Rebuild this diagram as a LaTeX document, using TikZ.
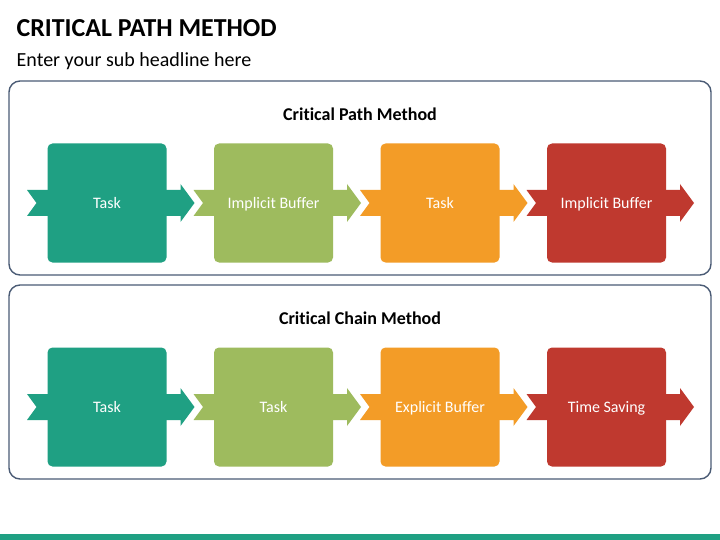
\documentclass[tikz,border=0pt]{standalone}
\usepackage{fontspec}
\setmainfont[Ligatures=NoCommon]{Carlito}
\definecolor{cgreen}{HTML}{1FA083}
\definecolor{clime}{HTML}{9EBB5E}
\definecolor{corange}{HTML}{F39C27}
\definecolor{cred}{HTML}{BF392F}
\definecolor{cpanel}{HTML}{4A5B75}
\newcommand{\taskshape}[5]{%
  \begin{scope}[shift={(#1,#2)}]
    \fill[#3] (-20.5,-13) -- (1,-13) -- (1,13) -- (-20.5,13) -- (-11,0) -- cycle;
    \fill[#3] (118,-13) -- (133,-13) -- (133,-19) -- (147,0) -- (133,19) -- (133,13) -- (118,13) -- cycle;
    \fill[#3, rounded corners=5pt] (0,-59.5) rectangle (119,59.5);
    \node[tasklabel] (#4) at (59.5,5.9) {#5};
  \end{scope}}
\tikzset{
  panel/.style={draw=cpanel, line width=1.4pt, rounded corners=11pt, fill=white},
  tasklabel/.style={text=white, anchor=base, font=\fontsize{16}{18}\selectfont, inner sep=0pt},
  paneltitle/.style={text=black, anchor=base, font=\fontsize{18}{20}\selectfont\bfseries, inner sep=0pt}
}
\begin{document}
\begin{tikzpicture}[x=1pt,y=-1pt]
\useasboundingbox (0,0) rectangle (720,540);
\fill[white] (0,0) rectangle (720,540);
\node[anchor=base west, inner sep=0pt, font=\fontsize{25.9}{28}\selectfont\bfseries] (title) at (16.5,37) {CRITICAL PATH METHOD};
\node[anchor=base west, inner sep=0pt, font=\fontsize{20}{24}\selectfont] (sub) at (16.5,66.5) {Enter your sub headline here};
\draw[panel] (9,81) rectangle (711,275);
\draw[panel] (9,285) rectangle (711,479);
\node[paneltitle] (t1) at (360,120.2) {Critical Path Method};
\node[paneltitle] (t2) at (360,324.2) {Critical Chain Method};
\taskshape{47.5}{203}{cgreen}{a1}{Task}
\taskshape{214}{203}{clime}{a2}{Implicit Buffer}
\taskshape{380.5}{203}{corange}{a3}{Task}
\taskshape{547}{203}{cred}{a4}{Implicit Buffer}
\taskshape{47.5}{407}{cgreen}{b1}{Task}
\taskshape{214}{407}{clime}{b2}{Task}
\taskshape{380.5}{407}{corange}{b3}{Explicit Buffer}
\taskshape{547}{407}{cred}{b4}{Time Saving}
\fill[cgreen] (0,534) rectangle (720,540);
\end{tikzpicture}
\end{document}
